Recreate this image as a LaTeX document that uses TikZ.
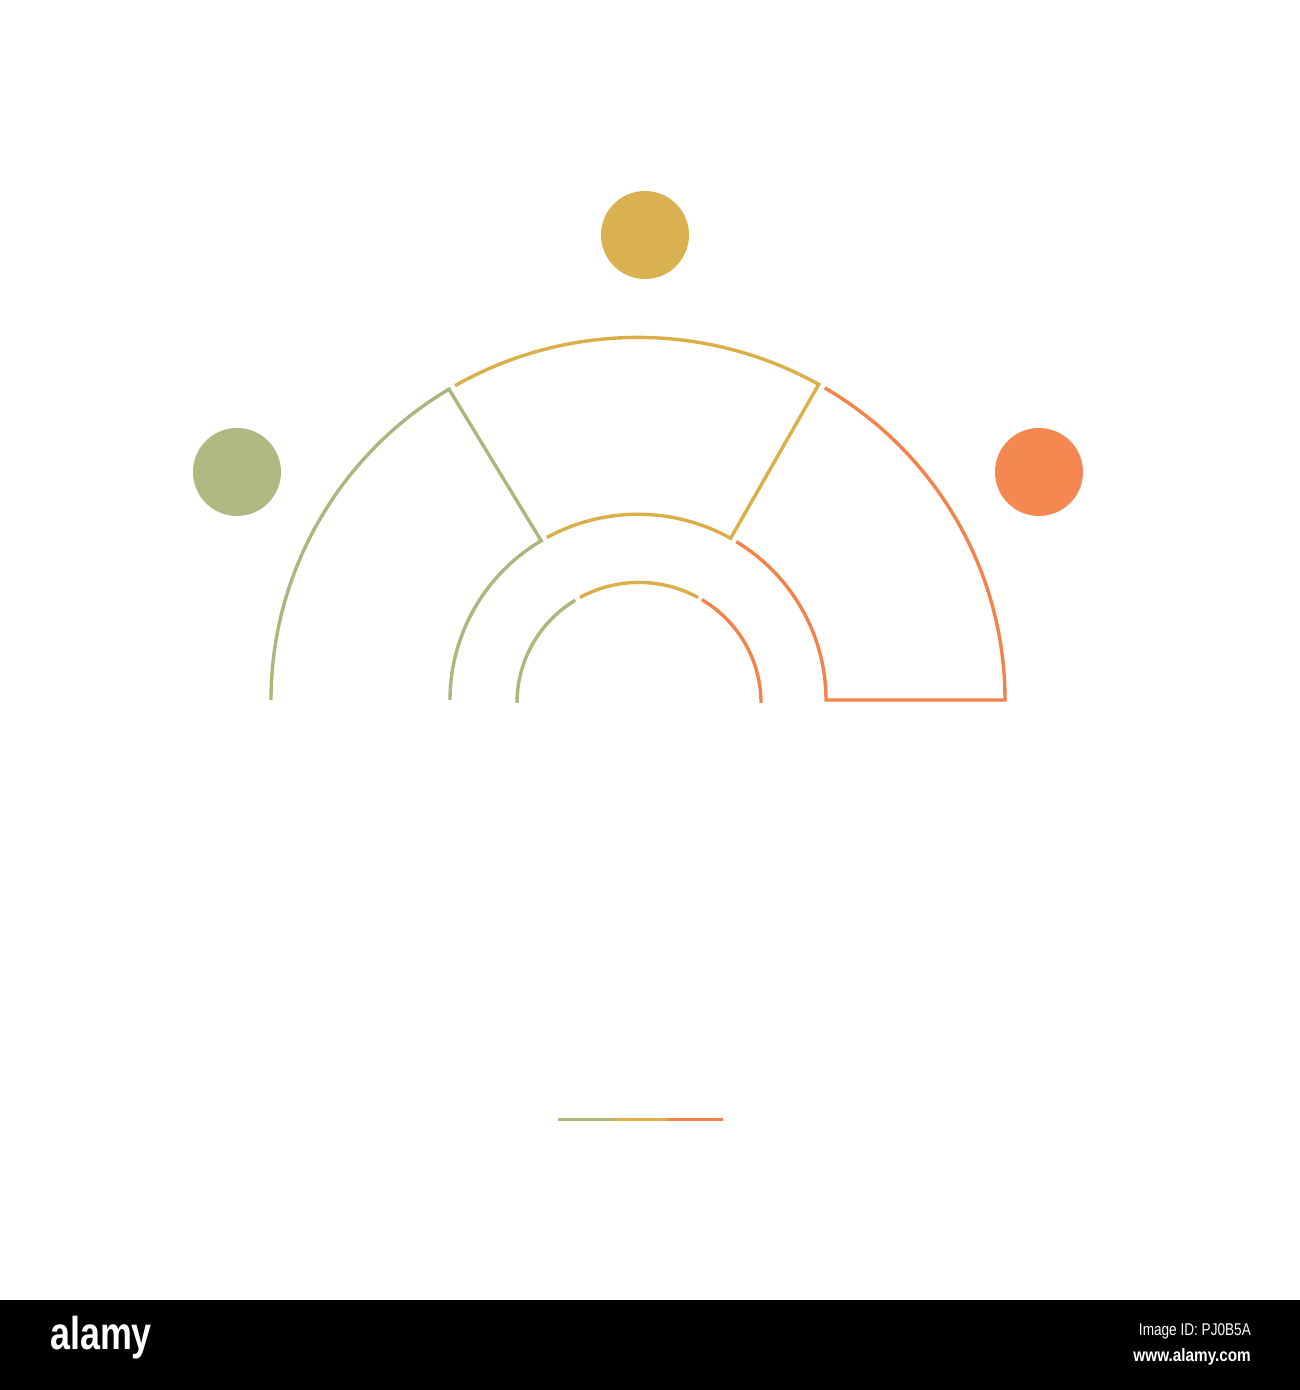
\documentclass[tikz,border=0pt]{standalone}
\usepackage{fontspec}
\setmainfont{Liberation Sans}
\usetikzlibrary{calc}
\definecolor{cgreen}{RGB}{170,184,125}
\definecolor{cyellow}{RGB}{219,175,72}
\definecolor{corange}{RGB}{244,131,74}
\definecolor{fgreen}{RGB}{174,185,130}
\definecolor{fyellow}{RGB}{218,177,80}
\definecolor{forange}{RGB}{245,135,80}
\tikzset{
  ring/.style={line width=3.4pt, line join=miter},
  dot/.style={circle, minimum size=88pt, inner sep=0pt, draw=none},
  wm/.style={text=white, inner sep=0pt}
}
\begin{document}
\begin{tikzpicture}[x=1pt,y=1pt]
\useasboundingbox (0,0) rectangle (1300,1390);
\fill[white] (0,0) rectangle (1300,1390);
% dots
\node[dot, fill=fgreen]  (dg) at (237,918) {};
\node[dot, fill=fyellow] (dy) at (645,1155) {};
\node[dot, fill=forange] (do) at (1039,918) {};
\begin{scope}[shift={(638,690)}, yscale=0.988]
\coordinate (c) at (0,0);
\coordinate (ci) at (1,-3);
% green segment
\draw[ring, cgreen] ($(c)+(180:367)$) arc[start angle=180, end angle=121, radius=367]
  -- ($(c)+(121:188)$) arc[start angle=121, end angle=180, radius=188];
% yellow segment
\draw[ring, cyellow] ($(c)+(119.9:367)$) arc[start angle=119.9, end angle=60.5, radius=367]
  -- ($(c)+(60.5:188)$) arc[start angle=60.5, end angle=119, radius=188];
% orange segment
\draw[ring, corange] ($(c)+(59.4:367)$) arc[start angle=59.4, end angle=0, radius=367]
  -- ($(c)+(0:188)$) arc[start angle=0, end angle=58.5, radius=188];
% inner ring
\draw[ring, cgreen]  ($(ci)+(180:122)$) arc[start angle=180, end angle=121.5, radius=122];
\draw[ring, cyellow] ($(ci)+(119:122)$) arc[start angle=119, end angle=61, radius=122];
\draw[ring, corange] ($(ci)+(59:122)$) arc[start angle=59, end angle=0, radius=122];
\end{scope}
% bottom line
\coordinate (l0) at (558,270);
\coordinate (l1) at (613,270);
\coordinate (l2) at (668,270);
\coordinate (l3) at (723,270);
\draw[line width=3pt, cgreen] (l0) -- (l1);
\draw[line width=3pt, cyellow] (l1) -- (l2);
\draw[line width=3pt, corange] (l2) -- (l3);
% black bar
\fill[black] (0,0) rectangle (1300,90);
\node[wm, anchor=base west, xscale=0.78] (logo) at (50,40) {\fontsize{46}{46}\selectfont\bfseries alamy};
\node[wm, anchor=base east, xscale=0.8] (iid) at (1251,54) {\fontsize{17}{17}\selectfont Image ID: PJ0B5A};
\node[wm, anchor=base east, xscale=0.85] (url) at (1251,28) {\fontsize{18}{18}\selectfont\bfseries www.alamy.com};
\end{tikzpicture}
\end{document}
